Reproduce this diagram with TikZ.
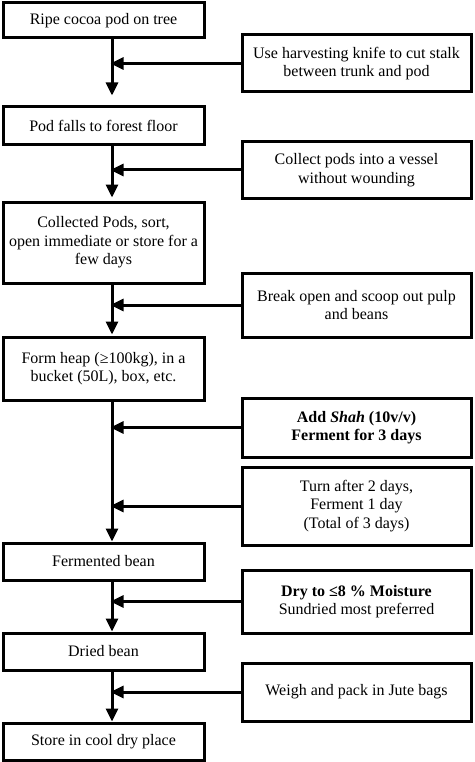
\documentclass[tikz,border=0pt]{standalone}
\usepackage{fontspec}
\setmainfont{Liberation Serif}
\usetikzlibrary{arrows.meta}
\begin{document}
\begin{tikzpicture}[x=1pt,y=-1pt,
  box/.style={draw, line width=3pt, inner sep=2pt, align=center,
    font=\fontsize{16}{18.5}\selectfont},
  lbox/.style={box, minimum width=201pt},
  rbox/.style={box, minimum width=229pt},
  arr/.style={line width=3pt, -{Triangle[width=12pt,length=13pt]}}]
\useasboundingbox (0,0) rectangle (474,762);
\coordinate (spine) at (112,0);
% main column
\node[lbox, minimum height=35pt] (b1) at (103.5,20.5) {Ripe cocoa pod on tree};
\node[lbox, minimum height=38pt] (b2) at (103.5,126) {Pod falls to forest floor};
\node[lbox, minimum height=81pt] (b3) at (103.5,242.5) {Collected Pods, sort,\\open immediate or store for a\\few days};
\node[lbox, minimum height=63pt] (b4) at (103.5,368.5) {Form heap (≥100kg), in a\\bucket (50L), box, etc.};
\node[lbox, minimum height=37pt] (b5) at (103.5,561.5) {Fermented bean};
\node[lbox, minimum height=37pt] (b6) at (103.5,651.5) {Dried bean};
\node[lbox, minimum height=37pt] (b7) at (103.5,741.5) {Store in cool dry place};
% side column
\node[rbox, minimum height=57pt] (r1) at (356.5,63.5) {Use harvesting knife to cut stalk\\between trunk and pod};
\node[rbox, minimum height=56pt] (r2) at (356.5,170) {Collect pods into a vessel\\without wounding};
\node[rbox, minimum height=64pt] (r3) at (356.5,305) {Break open and scoop out pulp\\and beans};
\node[rbox, minimum height=59pt] (r4) at (356.5,427.5) {\textbf{Add \textit{Shah} (10v/v)}\\\textbf{Ferment for 3 days}};
\node[rbox, minimum height=78pt] (r5) at (356.5,506) {Turn after 2 days,\\Ferment 1 day\\(Total of 3 days)};
\node[rbox, minimum height=63pt] (r6) at (356.5,601.5) {\textbf{Dry to ≤8 \% Moisture}\\Sundried most preferred};
\node[rbox, minimum height=58pt] (r7) at (356.5,692) {Weigh and pack in Jute bags};
% vertical arrows
\draw[arr, shorten >=10pt] (b1.south -| spine) -- (b2.north -| spine);
\draw[arr, shorten >=3pt] (b2.south -| spine) -- (b3.north -| spine);
\draw[arr, shorten >=1pt] (b3.south -| spine) -- (b4.north -| spine);
\draw[arr] (b4.south -| spine) -- (b5.north -| spine);
\draw[arr] (b5.south -| spine) -- (b6.north -| spine);
\draw[arr] (b6.south -| spine) -- (b7.north -| spine);
% side arrows
\foreach \r in {r1,r2,r3,r4,r5,r6,r7}
  \draw[arr, shorten >=-1.5pt] (\r.west) -- (\r.west -| spine);
\end{tikzpicture}
\end{document}
